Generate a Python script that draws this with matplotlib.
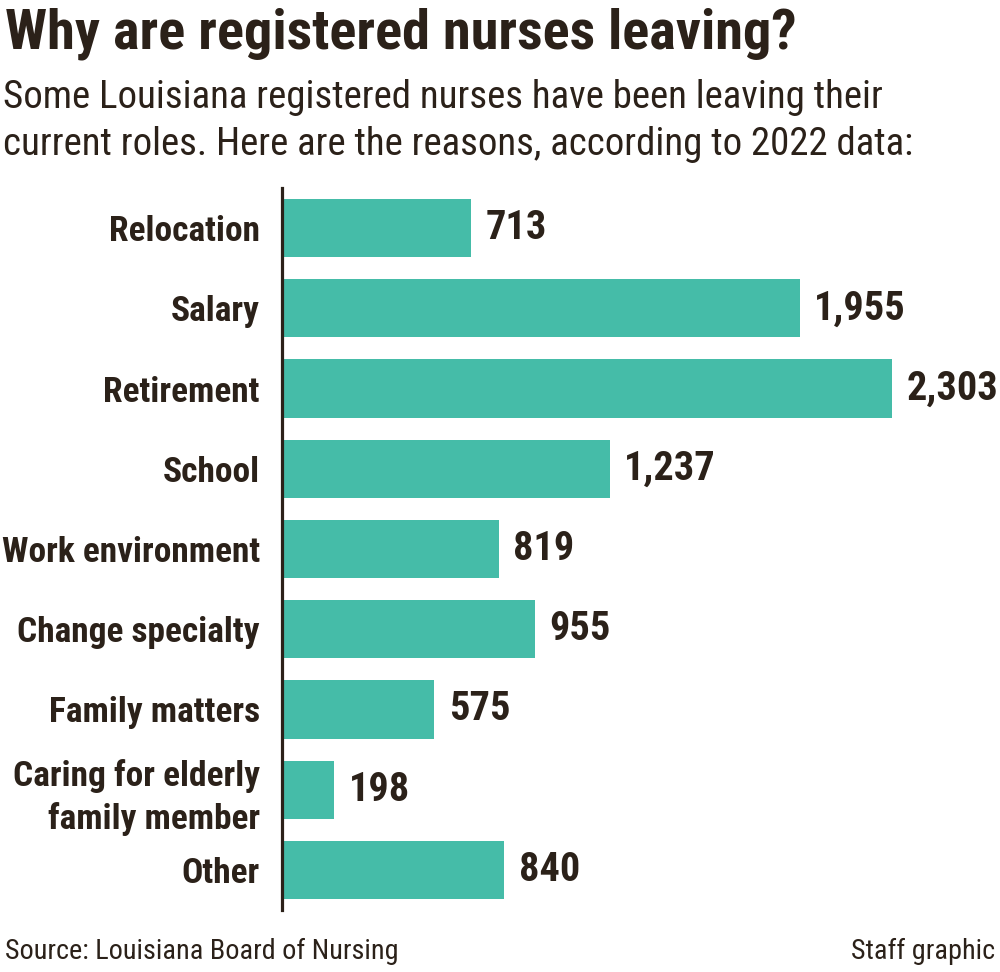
import matplotlib
matplotlib.use("Agg")
import matplotlib.pyplot as plt

# data
reasons = [
    "Relocation",
    "Salary",
    "Retirement",
    "School",
    "Work environment",
    "Change specialty",
    "Family matters",
    "Caring for elderly\nfamily member",
    "Other",
]
counts = [713, 1955, 2303, 1237, 819, 955, 575, 198, 840]

title = "Why are registered nurses leaving?"
subtitle = ("Some Louisiana registered nurses have been leaving their\n"
            "current roles. Here are the reasons, according to 2022 data:")
source = "Source: Louisiana Board of Nursing"
credit = "Staff graphic"

TEAL = "#45bca8"
INK = "#2b2119"
FONT = ["Roboto Condensed", "DejaVu Sans"]

plt.rcParams["font.family"] = FONT
plt.rcParams["font.stretch"] = "condensed"

fig = plt.figure(figsize=(10, 9.72), dpi=100, facecolor="white")
ax = fig.add_axes([0.282, 0.0638, 0.718, 0.7428])

y = list(range(len(reasons)))
ax.barh(y, counts, height=0.725, color=TEAL)
ax.set_ylim(len(reasons) - 0.5, -0.5)
ax.set_xlim(0, 2711)

for yi, v in zip(y, counts):
    ax.text(v + 55, yi, f"{v:,}", va="center", ha="left",
            fontsize=29, fontweight="bold", color=INK)

ax.set_yticks(y)
ax.set_yticklabels(reasons, fontsize=25.5, fontweight="bold", color=INK,
                   linespacing=1.32)
ax.tick_params(axis="y", length=0, pad=16)
ax.set_xticks([])
for s in ["top", "right", "bottom"]:
    ax.spines[s].set_visible(False)
ax.spines["left"].set_linewidth(2.3)
ax.spines["left"].set_color(INK)

fig.text(0.005, 0.9506, title, fontsize=40.5, fontweight="bold", color=INK,
         va="baseline", ha="left")
fig.text(0.003, 0.8405, subtitle, fontsize=28, color=INK, va="baseline",
         ha="left", linespacing=1.36)
fig.text(0.005, 0.0134, source, fontsize=20.3, color=INK, va="baseline", ha="left")
fig.text(0.995, 0.0134, credit, fontsize=20.3, color=INK, va="baseline", ha="right")

fig.savefig("out.png", dpi=100, facecolor="white")
